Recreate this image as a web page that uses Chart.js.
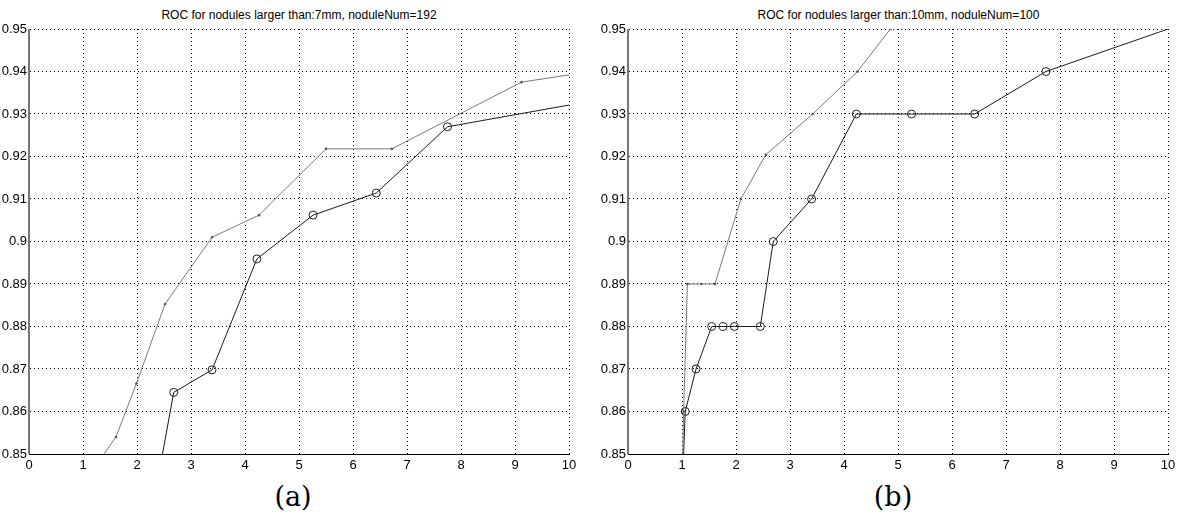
<!DOCTYPE html>
<html>
<head>
<meta charset="utf-8">
<script src="https://cdn.jsdelivr.net/npm/chart.js@4"></script>
<style>
    body { margin: 0; background: #fff; width: 1186px; height: 519px; position: relative; overflow: hidden; }
    .box { position: absolute; top: 0; height: 474px; }
    .title { position: absolute; top: 8px; font: 12px "Liberation Sans", Arial, sans-serif; color: #000; text-align: center; white-space: nowrap; }
    .sub { position: absolute; top: 481px; font: 27px "DejaVu Serif", "Liberation Serif", serif; color: #000; text-align: center; }
</style>
</head>
<body>
<div class="title" style="left: 29px; width: 540px;">ROC for nodules larger than:7mm, noduleNum=192</div>
<div class="title" style="left: 628px; width: 541px;">ROC for nodules larger than:10mm, noduleNum=100</div>
<div class="box" style="left: 0; width: 590px;"><canvas id="chartA"></canvas></div>
<div class="box" style="left: 599px; width: 587px;"><canvas id="chartB"></canvas></div>
<div class="sub" style="left: 253px; width: 80px;">(a)</div>
<div class="sub" style="left: 853px; width: 80px;">(b)</div>

<script>
// Axis ticks shared by both panels
const xTicks = [0, 1, 2, 3, 4, 5, 6, 7, 8, 9, 10];
const yTicks = [0.85, 0.86, 0.87, 0.88, 0.89, 0.90, 0.91, 0.92, 0.93, 0.94, 0.95];
const yTickLabels = ['0.85', '0.86', '0.87', '0.88', '0.89', '0.9', '0.91', '0.92', '0.93', '0.94', '0.95'];

// (a) nodules > 7mm
const aGrayX = [1.0, 1.61, 1.99, 2.52, 3.39, 4.26, 5.50, 6.72, 9.12, 10.0];
const aGrayY = [0.843, 0.854, 0.8666, 0.8853, 0.901, 0.9062, 0.9218, 0.9218, 0.9375, 0.9392];
const aBlackX = [2.4, 2.68, 3.39, 4.22, 5.26, 6.43, 7.75, 10.0];
const aBlackY = [0.845, 0.8645, 0.8698, 0.8959, 0.9062, 0.9114, 0.927, 0.9321];

// (b) nodules > 10mm
const bGrayX = [1.0, 1.03, 1.1, 1.36, 1.61, 2.09, 2.55, 3.42, 4.25, 4.86, 5.2];
const bGrayY = [0.84, 0.86, 0.89, 0.89, 0.89, 0.91, 0.9204, 0.93, 0.94, 0.95, 0.955];
const bBlackX = [1.0, 1.06, 1.26, 1.55, 1.76, 1.97, 2.45, 2.69, 3.40, 4.23, 5.25, 6.42, 7.74, 10.0];
const bBlackY = [0.84, 0.86, 0.87, 0.88, 0.88, 0.88, 0.88, 0.90, 0.91, 0.93, 0.93, 0.93, 0.94, 0.95];

const FONT = { family: '"Liberation Sans", Arial, sans-serif', size: 13 };

function pairs(xs, ys) {
    return xs.map((x, i) => ({ x: x, y: ys[i] }));
}

// no marker on the end point at the right edge
function radii(xs, r) {
    return xs.map((x, i) => (i === xs.length - 1 ? 0 : r));
}

function makeChart(id, grayX, grayY, blackX, blackY, padRight) {
    const ctx = document.getElementById(id);
    return new Chart(ctx, {
        type: 'line',
        data: {
            datasets: [{
                data: pairs(grayX, grayY),
                borderColor: '#7a7a7a',
                backgroundColor: '#555',
                borderWidth: 1,
                pointRadius: radii(grayX, 1.3),
                pointBorderWidth: 0,
                tension: 0,
                clip: 0
            }, {
                data: pairs(blackX, blackY),
                borderColor: '#1a1a1a',
                backgroundColor: 'rgba(0,0,0,0)',
                borderWidth: 1,
                pointRadius: radii(blackX, 4),
                pointBorderWidth: 1,
                pointBorderColor: '#222',
                tension: 0,
                clip: 0
            }]
        },
        options: {
            responsive: true,
            maintainAspectRatio: false,
            animation: false,
            events: [],
            layout: { padding: { top: 29, right: padRight, left: 0, bottom: 0 } },
            plugins: {
                legend: { display: false },
                title: { display: false },
                tooltip: { enabled: false }
            },
            scales: {
                x: {
                    type: 'linear',
                    min: 0,
                    max: 10,
                    afterBuildTicks: (scale) => { scale.ticks = xTicks.map(v => ({ value: v })); },
                    afterFit: (scale) => { scale.height = 20; },
                    ticks: { font: FONT, color: '#000', padding: 4, maxRotation: 0, callback: (v, i) => String(xTicks[i]) },
                    grid: { color: '#000', lineWidth: 1, drawTicks: false },
                    border: { display: true, color: '#000', width: 1, dash: [1, 3] }
                },
                y: {
                    type: 'linear',
                    min: 0.85,
                    max: 0.95,
                    afterBuildTicks: (scale) => { scale.ticks = yTicks.map(v => ({ value: v })); },
                    afterFit: (scale) => { scale.width = 29; },
                    ticks: { font: FONT, color: '#000', padding: 2, callback: (v, i) => yTickLabels[i] },
                    grid: { color: '#000', lineWidth: 1, drawTicks: false },
                    border: { display: true, color: '#000', width: 1, dash: [1, 3] }
                }
            }
        },
        plugins: [{
            // solid left and bottom spines drawn over the dotted grid
            id: 'spines',
            afterDraw(chart) {
                const a = chart.chartArea;
                const c = chart.ctx;
                c.save();
                c.strokeStyle = '#777';
                c.lineWidth = 2;
                c.beginPath();
                c.moveTo(a.left, a.top);
                c.lineTo(a.left, a.bottom);
                c.stroke();
                c.strokeStyle = '#000';
                c.lineWidth = 1;
                c.beginPath();
                c.moveTo(a.left, Math.round(a.bottom) + 0.5);
                c.lineTo(a.right, Math.round(a.bottom) + 0.5);
                c.stroke();
                c.restore();
            }
        }]
    });
}

makeChart('chartA', aGrayX, aGrayY, aBlackX, aBlackY, 21);
makeChart('chartB', bGrayX, bGrayY, bBlackX, bBlackY, 18);
</script>
</body>
</html>
